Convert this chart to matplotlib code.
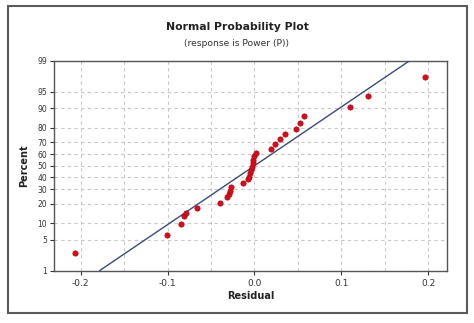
import numpy as np
import matplotlib
matplotlib.use('Agg')
import matplotlib.pyplot as plt
from matplotlib.patches import Rectangle
from statistics import NormalDist

# Residuals, with their percent positions
residual = [-0.2066, -0.1010, -0.0849, -0.0808, -0.0792, -0.0665, -0.0397,
            -0.0313, -0.0297, -0.0282, -0.0270, -0.0129, -0.0078, -0.0060,
            -0.0052, -0.0040, -0.0029, -0.0021, -0.0014, -0.0002, 0.0014,
            0.0190, 0.0236, 0.0293, 0.0351, 0.0478, 0.0527, 0.0573,
            0.1099, 0.1310, 0.1966]
percent = [2.6, 6.2, 9.8, 13.2, 14.7, 17.2, 20.6, 24.2, 26.5, 29.0, 31.6,
           35.3, 38.2, 40.4, 43.3, 46.2, 49.2, 52.2, 55.1, 58.6, 60.9,
           64.5, 68.5, 72.2, 75.7, 79.1, 83.0, 86.5, 90.5, 94.0, 97.5]

# fitted normal line (endpoints at 1% and 99%)
fit_x = [-0.178, 0.178]
fit_p = [1, 99]

y_ticks = [1, 5, 10, 20, 30, 40, 50, 60, 70, 80, 90, 95, 99]
x_ticks = [-0.2, -0.1, 0.0, 0.1, 0.2]

nd = NormalDist()

def _fwd(v):
    if not np.isfinite(v):
        return np.nan
    p = min(max(v / 100.0, 1e-9), 1 - 1e-9)
    return nd.inv_cdf(p)

def _inv(v):
    if not np.isfinite(v):
        return np.nan
    return nd.cdf(v) * 100.0

forward = np.vectorize(_fwd, otypes=[float])
inverse = np.vectorize(_inv, otypes=[float])

fig = plt.figure(figsize=(4.74, 3.23), dpi=100)
ax = fig.add_axes([54/474, 1 - 270.5/323, (446.7-54)/474, (270.5-61)/323])

ax.set_yscale('function', functions=(forward, inverse))
ax.set_ylim(1, 99)
ax.set_xlim(-0.2307, 0.2212)

ax.plot(fit_x, fit_p, color='#3c4a7c', lw=1.0, zorder=3)
ax.plot(residual, percent, linestyle='none', marker='o', ms=3.8,
        color='#d01018', mec='#c00010', mew=0.5, zorder=4)

ax.set_yticks(y_ticks)
ax.set_yticklabels([str(t) for t in y_ticks])
ax.yaxis.set_minor_locator(matplotlib.ticker.NullLocator())
ax.set_xticks(x_ticks)
ax.set_xticklabels(['-0.2', '-0.1', '0.0', '0.1', '0.2'])
ax.set_xticks([-0.15, -0.05, 0.05, 0.15], minor=True)

ax.grid(True, which='both', linestyle=(0, (3, 3)), color='#c8c8c8', lw=0.8)
ax.set_axisbelow(True)
ax.tick_params(axis='y', which='major', length=3, width=0.8, pad=2,
               labelsize=5.5, colors='#333333')
ax.tick_params(axis='x', which='major', length=3, width=0.8, pad=3,
               labelsize=6.5, colors='#333333')
ax.tick_params(axis='x', which='minor', length=0)
for s in ax.spines.values():
    s.set_color('#555555')
    s.set_linewidth(1.0)

ax.set_xlabel('Residual', fontsize=7, fontweight='bold', color='#222222', labelpad=2)
ax.set_ylabel('Percent', fontsize=7, fontweight='bold', color='#222222', labelpad=6)

fig.text(0.5, 1 - 27/323, 'Normal Probability Plot', ha='center', va='center',
         fontsize=7.8, fontweight='bold', color='#222222')
fig.text(0.5, 1 - 43/323, '(response is Power (P))', ha='center', va='center',
         fontsize=6.6, color='#333333')

# outer frame
fig.patches.append(Rectangle((8/474, 1 - 313/323), (467-8)/474, (313-6)/323,
                             transform=fig.transFigure, fill=False,
                             edgecolor='#5a5a5a', lw=1.5))

fig.savefig('out.png', dpi=100)
